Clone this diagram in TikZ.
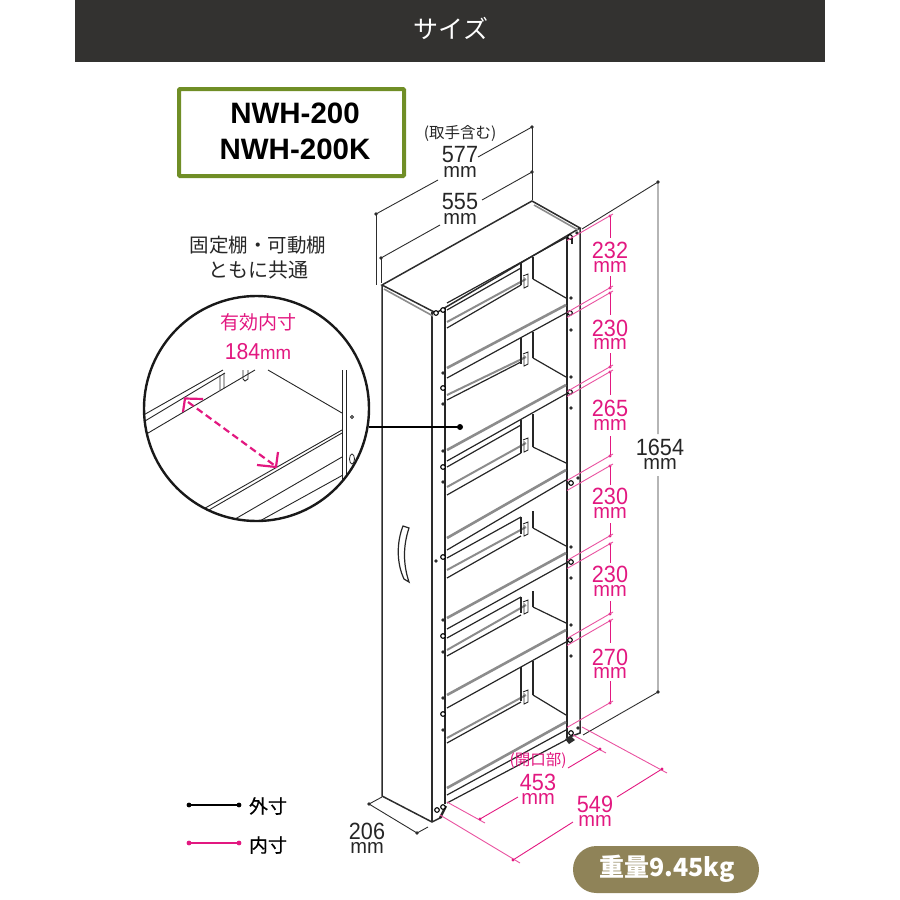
\documentclass[tikz,border=0pt]{standalone}
\usepackage{fontspec}
\setmainfont{Liberation Sans}
\newfontfamily\dimfont[FakeStretch=0.92]{Liberation Sans}
\newfontfamily\unitfont[FakeStretch=0.98]{Liberation Sans}
\newfontfamily\cjk{Noto Sans CJK JP}
\newfontfamily\cjkm[FakeBold=0.5]{Noto Sans CJK JP}
\definecolor{pinkdim}{RGB}{226,24,128}
\definecolor{darkbar}{RGB}{51,50,48}
\definecolor{boxgreen}{RGB}{112,142,38}
\definecolor{pill}{RGB}{143,131,88}
\definecolor{inkline}{RGB}{45,45,45}
\definecolor{railgray}{RGB}{140,140,140}
\tikzset{
  every node/.style={inner sep=0pt,outer sep=0pt,align=center},
  num/.style={align=none,anchor=base,yshift=-8.4pt,font=\dimfont\fontsize{23.5}{23.5}\selectfont,text=#1},
  unit/.style={align=none,anchor=base,yshift=-5.8pt,font=\unitfont\fontsize{20.5}{20.5}\selectfont,text=#1},
  jp/.style={font=\cjk\fontsize{#1}{#1}\selectfont},
  blackdim/.style={draw=inkline,line width=0.9pt},
  pinkline/.style={draw=pinkdim,line width=0.9pt},
  pinktick/.style={draw=pinkdim!75,line width=0.9pt},
  body/.style={draw=inkline,line width=1.5pt},
  fine/.style={draw=black!85,line width=1.2pt},
  railband/.style={draw=railgray,line width=2.6pt},
  postline/.style={draw=black!85,line width=2.5pt},
}
\newcommand{\bdot}[1]{\fill[inkline] #1 circle (1.8pt);}
\newcommand{\pdot}[1]{\fill[pinkdim] #1 circle (1.7pt);}
\newcommand{\ring}[1]{\draw[fill=white,draw=black,line width=1.1pt] #1 circle (2.3pt);}
\begin{document}
\begin{tikzpicture}[x=1pt,y=-1pt]
\useasboundingbox (0,0) rectangle (900,900);
% header
\fill[darkbar] (75,0) rectangle (825,62);
\node[jp=25,text=white] (title) at (451,28) {サイズ};
% model box
\draw[boxgreen,line width=4pt,rounded corners=1pt] (179,89) rectangle (404,176);
\node[font=\bfseries\fontsize{29.5}{29.5}\selectfont] (m1) at (295,113) {NWH-200};
\node[font=\bfseries\fontsize{29.5}{29.5}\selectfont] (m2) at (295,149) {NWH-200K};
% note
\node[jp=19.5,text=black!85] (n1) at (258,245) {固定棚・可動棚};
\node[jp=20,text=black!85] (n2) at (258,270) {ともに共通};
% cabinet body
\draw[body] (382,285) -- (382,796) -- (432,822) -- (442,817);
\draw[body] (432,312) -- (432,822);
\draw[body] (382,285) -- (532,201) -- (580,228) -- (436,313) -- cycle;
\draw[draw=railgray,line width=1.6pt] (384,289) -- (433,316);
\draw[draw=railgray,line width=1.6pt] (534,205) -- (578,230);
\draw[body] (580,228) -- (580,733) -- (567,738);
\draw[fine] (572,238) -- (572,244);
\draw[postline] (445,308) -- (445,804);
\draw[postline] (567,237) -- (567,738);
% top rails
\draw[fine] (447,303) -- (567,237);
\draw[fine] (447,310) -- (521,268);
% shelf fronts
\foreach \a/\b/\c/\d in {368/305/378/313,450/385/461/394,538/470/550/480,618/553/629/563,695/630/708/642,788/722/795/730}{
  \draw[railband] (447,\a) -- (566,\b);
  \draw[fine] (447,\c) -- (566,\d);
}
\draw[fine] (447,803) -- (566,740);
% third lines under shelves
\foreach \a/\b in {467/425,558/517,638/597}{
  \draw[fine] (447,\a) -- (521,\b);
}
% rails with hooks
\foreach \a/\b/\c/\d in {322/279/328/285,395/357/400/362,487/443/495/453,570/527/578/536,650/605/656/615,738/695/743/702}{
  \draw[draw=railgray,line width=2pt] (447,\a) -- (526,\b);
  \draw[fine] (447,\c) -- (521,\d);
  \draw[fine,line width=0.9pt] (523,\b-3) -- (528,\b-5) -- (528,\b+7) -- (524,\b+9) -- (524,\b-2);
}
% back shelf edges and back posts
\foreach \t/\y/\z in {263/279/298,338/358/377,420/447/463,517/528/546,597/607/623,667/695/715}{
  \draw[fine] (533,\y) -- (566,\z);
  \draw[postline,line width=2.2pt] (521,\t) -- (521,\y+6);
  \draw[fine] (533,\t-6) -- (533,\y);
}
% foot
\fill[inkline] (565,739) -- (571,736) -- (575,740) -- (569,744) -- cycle;
\draw[line width=2.4pt,black!85] (446,806) -- (440,818);
% handle
\draw[fine] (403,526) .. controls (397,541) and (396,562) .. (404,579) -- (409,582)
  .. controls (403,564) and (403,546) .. (409,528) -- cycle;
% screws
\foreach \p in {(443,373),(443,404),(443,451),(443,482),(443,620),(443,652),(443,698),(443,730),(436,561),
  (571,298),(571,330),(571,377),(571,408),(571,547),(571,578),(571,625),(571,656),(578,478),(578,728),(577,233)}{\bdot{\p}}
\foreach \p in {(443,388),(443,467),(443,557),(443,636),(443,714),(443,807),(437,810),(436,313),(443,310),
  (570,237),(570,313),(570,392),(571,483),(571,562),(570,640),(571,733)}{\ring{\p}}
% outer dimensions
\coordinate (a1) at (376,214); \coordinate (a2) at (532,127);
\coordinate (b1) at (381,258); \coordinate (b2) at (532,172);
\coordinate (h1) at (658,182); \coordinate (h2) at (658,692);
\coordinate (w1) at (369,804); \coordinate (w2) at (417,833);
\draw[blackdim] (a1) -- (438,180) (478,157) -- (a2);
\draw[blackdim] (a1) -- (376,285) (a2) -- (532,200);
\draw[blackdim] (b1) -- (440,225) (482,200) -- (b2);
\draw[blackdim] (b1) -- (381,283);
\draw[blackdim] (582,229) -- (h1) -- (658,434) (658,476) -- (h2) -- (583,735);
\draw[blackdim] (382,797) -- (w1) -- (w2) -- (428,827);
\foreach \p in {a1,a2,b1,b2,h1,h2,w1,w2}{\bdot{(\p)}}
\node[jp=15.5,text=black!85] (t0) at (460,133) {(取手含む)};
\node[num=black!85] (t1) at (460,154) {577};
\node[unit=black!85] (t2) at (460,172) {mm};
\node[num=black!85] (t3) at (460,201) {555};
\node[unit=black!85] (t4) at (460,219) {mm};
\node[num=black!85] (t5) at (660,447) {1654};
\node[unit=black!85] (t6) at (660,464) {mm};
\node[num=black!85] (t7) at (367,831) {206};
\node[unit=black!85] (t8) at (367,848) {mm};
% inner vertical dimensions
\foreach \top/\gta/\gtb/\bot/\lab/\ly/\my in {216/238/276/288/232/250/267,293/315/353/367/230/328/344,372/395/436/456/265/408/425,466/485/523/536/230/496/513,544/563/601/614/230/574/591,621/643/681/703/270/657/673}{
  \draw[pinkline] (610,\top) -- (610,\gta) (610,\gtb) -- (610,\bot);
  \pdot{(610,\top)} \pdot{(610,\bot)}
  \draw[pinktick] (567,\top+24.5) -- (613,\top-2);
  \node[num=pinkdim] at (610,\ly) {\lab};
  \node[unit=pinkdim] at (610,\my) {mm};
}
\foreach \bot in {288,367,456,536,614,703}{
  \draw[pinktick] (567,\bot+24.5) -- (613,\bot-2);
}
% bottom dimensions
\coordinate (p1) at (480,819); \coordinate (p2) at (600,749);
\coordinate (q1) at (513,860); \coordinate (q2) at (662,769);
\draw[pinkline] (p1) -- (518,797) (568,768) -- (p2);
\draw[pinktick] (447,802) -- (485,823) (573,735) -- (606,753);
\draw[pinkline] (q1) -- (573,822) (617,797) -- (q2);
\draw[pinktick] (440,815) -- (520,863) (582,727) -- (667,773);
\foreach \p in {p1,p2,q1,q2}{\pdot{(\p)}}
\node[jp=15.5,text=pinkdim] (u0) at (538,761) {(開口部)};
\node[num=pinkdim] (u1) at (538,782) {453};
\node[unit=pinkdim] (u2) at (538,799) {mm};
\node[num=pinkdim] (u3) at (595,804) {549};
\node[unit=pinkdim] (u4) at (595,821) {mm};
% detail circle
\coordinate (cc) at (256.5,408.5);
\begin{scope}
\clip (cc) circle (112.5pt);
\draw[fine,line width=0.9pt] (140,417) -- (223,370) (140,424) -- (225,373) (143,436) -- (255,370) (268,370) -- (342,413);
\draw[fine,line width=0.9pt] (220,375) -- (220,390) (224,373) -- (224,388) (243,370) -- (243,379) -- (245,381) -- (248,379) -- (248,370);
\draw[fine,line width=0.9pt] (342,370) -- (342,480) (346,370) -- (346,480);
\draw[fine,line width=0.9pt] (200,511) -- (342,430) (202,514) -- (342,433) (230,522) -- (342,457) (258,522) -- (343,475);
\draw[fine,line width=0.8pt] (352,417) circle (1.5pt);
\draw[fine,line width=0.8pt] (352,459) ellipse (2.5pt and 5pt);
\end{scope}
\draw[draw=pinkdim,line width=2.2pt,dash pattern=on 7pt off 4pt] (188,402) -- (274,465);
\draw[draw=pinkdim,line width=2.2pt] (183,412) -- (185,398.5) -- (203,399);
\draw[draw=pinkdim,line width=2.2pt] (257,465) -- (276,467) -- (278,452);
\node[jp=19,text=pinkdim] (e1) at (258,322) {有効内寸};
\node[font=\dimfont\fontsize{23}{23}\selectfont,text=pinkdim] (e2) at (258,352) {184{\unitfont\fontsize{19}{19}\selectfont mm}};
\draw[draw=black!90,line width=2.4pt] (cc) circle (112.5pt);
\coordinate (lead1) at (369,427); \coordinate (lead2) at (460,427);
\draw[black,line width=2pt] (lead1) -- (lead2);
\fill[black] (lead2) circle (3pt);
% legend
\coordinate (k1) at (189,805); \coordinate (k2) at (239,805);
\coordinate (k3) at (189,843); \coordinate (k4) at (239,843);
\draw[black,line width=1.5pt] (k1) -- (k2);
\fill[black] (k1) circle (2.4pt) (k2) circle (2.4pt);
\draw[pinkdim,line width=1.5pt] (k3) -- (k4);
\fill[pinkdim] (k3) circle (2.4pt) (k4) circle (2.4pt);
\node[font=\cjkm\fontsize{19}{19}\selectfont,text=black] (k5) at (268,806) {外寸};
\node[font=\cjkm\fontsize{19}{19}\selectfont,text=black] (k6) at (268,845) {内寸};
% weight pill
\fill[pill] (573,846) [rounded corners=23.4pt] rectangle (759,893);
\node[font=\cjk\bfseries\fontsize{25}{25}\selectfont,text=white] (wt) at (667,869) {重量9.45kg};
\end{tikzpicture}
\end{document}
